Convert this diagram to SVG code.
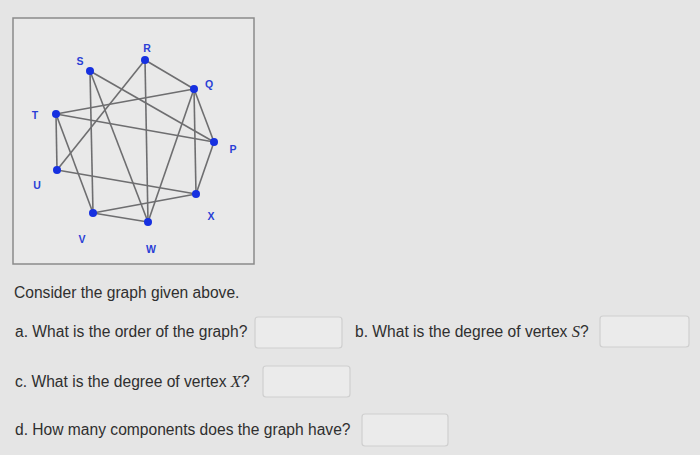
<svg xmlns="http://www.w3.org/2000/svg" width="700" height="455" viewBox="0 0 700 455">
<style>
.edge{stroke:#6e6e70;stroke-width:1.6;fill:none}
.node circle{fill:#1630e0}
.lbl{font-family:"Liberation Sans",Arial,sans-serif;font-weight:bold;font-size:10.5px;fill:#2a3fd6;text-anchor:middle}
.q{font-family:"Liberation Sans",Arial,sans-serif;font-size:15.6px;fill:#2f2f2f}
.m{font-family:"Liberation Serif","Times New Roman",serif;font-style:italic;font-size:16.5px}
.box{fill:#ebebeb;stroke:#cfcfcf;stroke-width:1.2}
</style>
<rect x="0" y="0" width="700" height="455" fill="#e5e5e5"/>
<rect x="13" y="18" width="241" height="246" fill="#e9e9e9" stroke="#8a8a8a" stroke-width="1.5"/>
<g id="edges">
<line class="edge" x1="90" y1="71" x2="93" y2="213"/>
<line class="edge" x1="90" y1="71" x2="148" y2="222"/>
<line class="edge" x1="90" y1="71" x2="214" y2="142"/>
<line class="edge" x1="145" y1="60" x2="57" y2="170"/>
<line class="edge" x1="145" y1="60" x2="148" y2="222"/>
<line class="edge" x1="145" y1="60" x2="194" y2="89"/>
<line class="edge" x1="194" y1="89" x2="56" y2="114"/>
<line class="edge" x1="194" y1="89" x2="196" y2="194"/>
<line class="edge" x1="194" y1="89" x2="214" y2="142"/>
<line class="edge" x1="194" y1="89" x2="148" y2="222"/>
<line class="edge" x1="56" y1="114" x2="214" y2="142"/>
<line class="edge" x1="56" y1="114" x2="57" y2="170"/>
<line class="edge" x1="56" y1="114" x2="93" y2="213"/>
<line class="edge" x1="214" y1="142" x2="196" y2="194"/>
<line class="edge" x1="57" y1="170" x2="196" y2="194"/>
<line class="edge" x1="93" y1="213" x2="196" y2="194"/>
<line class="edge" x1="93" y1="213" x2="148" y2="222"/>
</g>
<g id="S" class="node"><circle cx="90" cy="71" r="4"/><text class="lbl" x="80" y="65">S</text></g>
<g id="R" class="node"><circle cx="145" cy="60" r="4"/><text class="lbl" x="147" y="52">R</text></g>
<g id="Q" class="node"><circle cx="194" cy="89" r="4"/><text class="lbl" x="209" y="88">Q</text></g>
<g id="T" class="node"><circle cx="56" cy="114" r="4"/><text class="lbl" x="35" y="119">T</text></g>
<g id="P" class="node"><circle cx="214" cy="142" r="4"/><text class="lbl" x="233" y="153">P</text></g>
<g id="U" class="node"><circle cx="57" cy="170" r="4"/><text class="lbl" x="37" y="189">U</text></g>
<g id="X" class="node"><circle cx="196" cy="194" r="4"/><text class="lbl" x="211" y="220">X</text></g>
<g id="V" class="node"><circle cx="93" cy="213" r="4"/><text class="lbl" x="82" y="243">V</text></g>
<g id="W" class="node"><circle cx="148" cy="222" r="4"/><text class="lbl" x="151" y="253">W</text></g>
<text class="q" x="14" y="298">Consider the graph given above.</text>
<text class="q" x="15" y="337">a. What is the order of the graph?</text>
<rect class="box" x="255" y="317" width="87" height="31" rx="3"/>
<text class="q" x="355" y="337">b. What is the degree of vertex <tspan class="m">S</tspan>?</text>
<rect class="box" x="600" y="316" width="89" height="31" rx="3"/>
<text class="q" x="15" y="387">c. What is the degree of vertex <tspan class="m">X</tspan>?</text>
<rect class="box" x="263" y="366" width="87" height="31" rx="3"/>
<text class="q" x="15" y="435">d. How many components does the graph have?</text>
<rect class="box" x="362" y="414" width="86" height="32" rx="3"/>
</svg>
